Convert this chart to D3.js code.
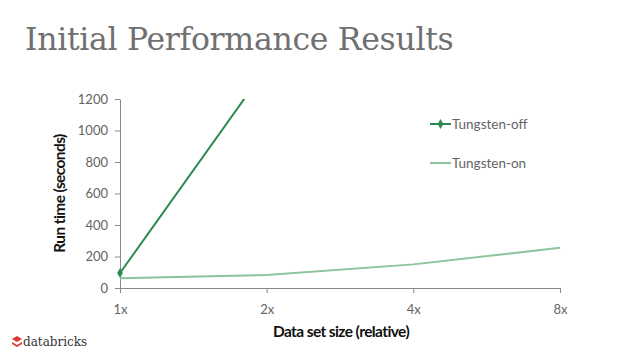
<!DOCTYPE html>
<html>
<head>
<meta charset="utf-8">
<style>
  body { margin: 0; background: #fff; }
  svg { display: block; }
  .axis text { font-family: Lato, "Open Sans", sans-serif; font-size: 13px; fill: #646464; }
  .axis path, .axis line { stroke: #898989; }
</style>
</head>
<body>
<svg width="638" height="359"></svg>
<script src="https://d3js.org/d3.v7.min.js"></script>
<script>
  var sizes = ["1x", "2x", "4x", "8x"];
  var tungstenOff = [95, 1400];
  var tungstenOn = [62, 82, 150, 255];
  var yTicks = [0, 200, 400, 600, 800, 1000, 1200];
  var seriesNames = ["Tungsten-off", "Tungsten-on"];
  var seriesColors = ["#2a8a52", "#8cc49b"];

  var svg = d3.select("svg"),
    margin = {top: 99, right: 78, bottom: 71, left: 120},
    width = 638 - margin.left - margin.right,
    height = 359 - margin.top - margin.bottom;

  // title
  svg.append("text")
    .attr("x", 25)
    .attr("y", 50)
    .attr("font-family", "'DejaVu Serif', serif")
    .attr("font-size", 31.5)
    .attr("fill", "#707070")
    .attr("letter-spacing", "-0.3px")
    .text("Initial Performance Results");

  var g = svg.append("g").attr("transform", "translate(" + margin.left + "," + margin.top + ")");

  var x = d3.scalePoint().domain(sizes).range([0, width]);
  var y = d3.scaleLinear().domain([0, 1200]).range([height, 0]);

  svg.append("defs").append("clipPath").attr("id", "plot")
    .append("rect").attr("x", -10).attr("y", 0).attr("width", width + 20).attr("height", height + 10);

  g.append("g")
    .attr("class", "axis")
    .attr("transform", "translate(0," + height + ")")
    .call(d3.axisBottom(x).tickSize(5).tickSizeOuter(0).tickPadding(12));

  g.append("g")
    .attr("class", "axis")
    .call(d3.axisLeft(y).tickValues(yTicks).tickFormat(d3.format("d")).tickSize(5).tickSizeOuter(0).tickPadding(7));

  var line = d3.line()
    .x(function(d, i) { return x(sizes[i]); })
    .y(function(d) { return y(d); });

  var plot = g.append("g").attr("clip-path", "url(#plot)");

  plot.append("path")
    .datum(tungstenOn)
    .attr("fill", "none")
    .attr("stroke", seriesColors[1])
    .attr("stroke-width", 2)
    .attr("d", line);

  plot.append("path")
    .datum(tungstenOff)
    .attr("fill", "none")
    .attr("stroke", seriesColors[0])
    .attr("stroke-width", 2)
    .attr("d", line);

  plot.selectAll(".mk")
    .data(tungstenOff)
    .enter().append("path")
    .attr("class", "mk")
    .attr("transform", function(d, i) { return "translate(" + x(sizes[i]) + "," + y(d) + ")"; })
    .attr("d", d3.symbol().type(d3.symbolDiamond).size(28))
    .attr("fill", seriesColors[0]);

  // axis titles
  svg.append("text")
    .attr("x", margin.left + width / 2 + 1)
    .attr("y", 337)
    .attr("text-anchor", "middle")
    .attr("font-family", "Lato, sans-serif")
    .attr("font-weight", "bold")
    .attr("font-size", 15.5)
    .attr("letter-spacing", "-0.6px")
    .attr("fill", "#111")
    .text("Data set size (relative)");

  svg.append("text")
    .attr("transform", "translate(65," + (margin.top + height / 2) + ") rotate(-90)")
    .attr("text-anchor", "middle")
    .attr("font-family", "Lato, sans-serif")
    .attr("font-weight", "bold")
    .attr("font-size", 15.5)
    .attr("letter-spacing", "-0.6px")
    .attr("fill", "#111")
    .text("Run time (seconds)");

  // legend
  var legend = svg.append("g").selectAll("g")
    .data(seriesNames)
    .enter().append("g")
    .attr("transform", function(d, i) { return "translate(430," + (124 + i * 39) + ")"; });

  legend.append("line")
    .attr("x1", 0).attr("x2", 21)
    .attr("stroke", function(d, i) { return seriesColors[i]; })
    .attr("stroke-width", 2);

  legend.filter(function(d, i) { return i === 0; })
    .append("path")
    .attr("transform", "translate(10.5,0)")
    .attr("d", d3.symbol().type(d3.symbolDiamond).size(28))
    .attr("fill", seriesColors[0]);

  legend.append("text")
    .attr("x", 22)
    .attr("dy", "0.35em")
    .attr("font-family", "Lato, sans-serif")
    .attr("font-size", 13.5)
    .attr("fill", "#646464")
    .text(function(d) { return d; });

  // footer logo
  var logo = svg.append("g").attr("transform", "translate(17,342)");
  logo.append("path").attr("d", "M-5,-3 L0,-6 L5,-3 L0,0 Z").attr("fill", "#e0352b");
  logo.append("path").attr("d", "M-5,0 L0,3 L5,0 L5,2 L0,5 L-5,2 Z").attr("fill", "#e0352b");
  svg.append("text")
    .attr("x", 23)
    .attr("y", 346)
    .attr("font-family", "'DejaVu Serif', serif")
    .attr("font-size", 12)
    .attr("fill", "#333")
    .text("databricks");
</script>
</body>
</html>
